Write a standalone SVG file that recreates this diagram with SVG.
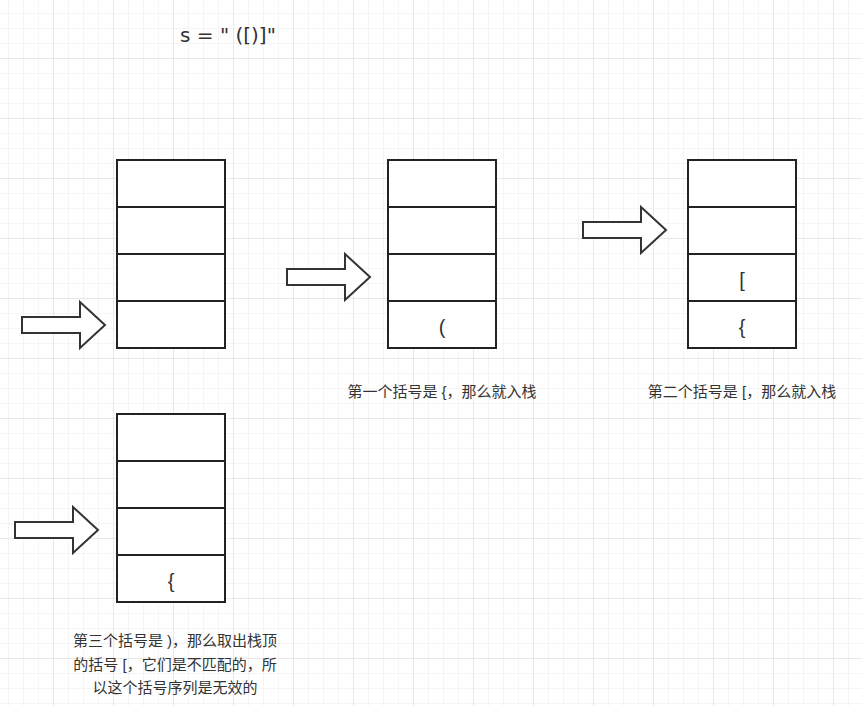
<svg xmlns="http://www.w3.org/2000/svg" width="862" height="706" viewBox="0 0 862 706">
<defs>
<pattern id="minor" width="15" height="15" patternUnits="userSpaceOnUse" x="8" y="13"><path d="M0 0H15M0 0V15" fill="none" stroke="#ececec" stroke-width="1"/></pattern>
<pattern id="major" width="60" height="60" patternUnits="userSpaceOnUse" x="53" y="58"><path d="M0 0H60M0 0V60" fill="none" stroke="#dcdcdc" stroke-width="1"/></pattern>
<path id="arrow" d="M0 -8H58V-23L83 0L58 23V8H0Z"/>
</defs>
<style>
.cell{fill:#fff;stroke:#222;stroke-width:2}
.arr{fill:#fff;stroke:#333;stroke-width:2;stroke-linejoin:miter}
text{font-family:"Liberation Sans","Noto Sans CJK SC",sans-serif;fill:#333}
.cap{font-size:15px;text-anchor:middle}
.sym{font-size:20px;text-anchor:middle}
</style>
<rect width="862" height="706" fill="#fff"/>
<rect width="862" height="706" fill="url(#minor)"/>
<rect width="862" height="706" fill="url(#major)"/>
<text x="180" y="42" font-size="20" style="font-family:'DejaVu Sans','Noto Sans CJK SC',sans-serif">s = "  ([)]"</text>
<g id="connectors">
<use href="#arrow" class="arr" transform="translate(22,325)"/>
<use href="#arrow" class="arr" transform="translate(287,277)"/>
<use href="#arrow" class="arr" transform="translate(583,230)"/>
<use href="#arrow" class="arr" transform="translate(15,530)"/>
</g>
<g id="stack1">
<rect class="cell" x="117" y="160" width="108" height="47"/><rect class="cell" x="117" y="207" width="108" height="47"/><rect class="cell" x="117" y="254" width="108" height="47"/><rect class="cell" x="117" y="301" width="108" height="47"/>
</g>
<g id="stack2">
<rect class="cell" x="388" y="160" width="108" height="47"/><rect class="cell" x="388" y="207" width="108" height="47"/><rect class="cell" x="388" y="254" width="108" height="47"/><rect class="cell" x="388" y="301" width="108" height="47"/>
<text class="sym" x="442" y="334">(</text>
<text class="cap" x="442" y="397">第一个括号是 {，那么就入栈</text>
</g>
<g id="stack3">
<rect class="cell" x="688" y="160" width="108" height="47"/><rect class="cell" x="688" y="207" width="108" height="47"/><rect class="cell" x="688" y="254" width="108" height="47"/><rect class="cell" x="688" y="301" width="108" height="47"/>
<text class="sym" x="742" y="287">[</text>
<text class="sym" x="742" y="334">{</text>
<text class="cap" x="742" y="397">第二个括号是 [，那么就入栈</text>
</g>
<g id="stack4">
<rect class="cell" x="117" y="414" width="108" height="47"/><rect class="cell" x="117" y="461" width="108" height="47"/><rect class="cell" x="117" y="508" width="108" height="47"/><rect class="cell" x="117" y="555" width="108" height="47"/>
<text class="sym" x="171" y="588">{</text>
<text class="cap" x="175" y="646">第三个括号是 )，那么取出栈顶</text>
<text class="cap" x="175" y="670">的括号 [，它们是不匹配的，所</text>
<text class="cap" x="175" y="693">以这个括号序列是无效的</text>
</g>
</svg>
